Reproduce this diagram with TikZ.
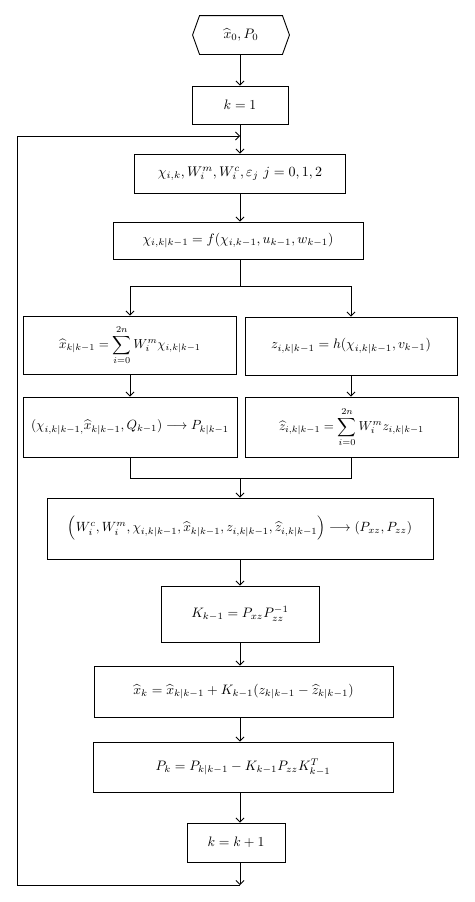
\documentclass[tikz,border=0pt]{standalone}
\usepackage{amsmath}
\usepackage{graphicx}
\usetikzlibrary{arrows.meta,calc}
\newcommand{\bt}[2][1.37]{\scalebox{#1}{#2}}
\begin{document}
\begin{tikzpicture}[x=1pt,y=-1pt,
  box/.style={draw,line width=0.9pt,rectangle,inner sep=0pt,align=center},
  conn/.style={line width=0.9pt},
  arr/.style={conn,-{Straight Barb[length=4pt,width=8pt,line width=0.8pt]}}]
\useasboundingbox (0,0) rectangle (474,902);
% nodes
\node[box,draw=none,minimum width=96pt,minimum height=38pt] (start) at (241,35) {\bt{$\widehat{x}_0, P_0$}};
\draw[line width=0.9pt] ([xshift=7pt]start.north west) -- ([xshift=-7pt]start.north east) -- (start.east)
  -- ([xshift=-7pt]start.south east) -- ([xshift=7pt]start.south west) -- (start.west) -- cycle;
\node[box,minimum width=96pt,minimum height=38pt] (k1) at (240,105) {\bt{$k = 1$}};
\node[box,minimum width=211pt,minimum height=39pt] (sig) at (240,173.5) {\bt[1.4]{$\chi_{i,k}, W_i^m, W_i^c, \varepsilon_j\ j = 0, 1, 2$}};
\node[box,minimum width=250pt,minimum height=37pt] (pred) at (238,240.5) {\bt{$\chi_{i,k|k-1} = f(\chi_{i,k-1}, u_{k-1}, w_{k-1})$}};
\node[box,minimum width=213pt,minimum height=58pt] (xm) at (130,345) {\bt[1.3]{$\displaystyle \widehat{x}_{k|k-1} = \sum_{i=0}^{2n} W_i^m \chi_{i,k|k-1}$}};
\node[box,minimum width=212pt,minimum height=58pt] (zp) at (351,346) {\bt{$z_{i,k|k-1} = h(\chi_{i,k|k-1}, v_{k-1})$}};
\node[box,minimum width=214pt,minimum height=60pt] (Pk) at (130,427) {\bt[1.33]{$(\chi_{i,k|k-1,} \widehat{x}_{k|k-1}, Q_{k-1}) \longrightarrow P_{k|k-1}$}};
\node[box,minimum width=213pt,minimum height=60pt] (zm) at (351.5,427) {\bt[1.3]{$\displaystyle \widehat{z}_{i,k|k-1} = \sum_{i=0}^{2n} W_i^m z_{i,k|k-1}$}};
\node[box,minimum width=386pt,minimum height=61pt] (cov) at (240,528.5) {\bt[1.34]{$\Big(W_i^c, W_i^m, \chi_{i,k|k-1}, \widehat{x}_{k|k-1}, z_{i,k|k-1}, \widehat{z}_{i,k|k-1}\Big) \longrightarrow (P_{xz}, P_{zz})$}};
\node[box,minimum width=158pt,minimum height=56pt] (gain) at (240,614) {\bt{$K_{k-1} = P_{xz}P_{zz}^{-1}$}};
\node[box,minimum width=299pt,minimum height=51pt] (upd) at (243.5,691.5) {\bt{$\widehat{x}_k = \widehat{x}_{k|k-1} + K_{k-1}(z_{k|k-1} - \widehat{z}_{k|k-1})$}};
\node[box,minimum width=300pt,minimum height=50pt] (Pupd) at (243,767) {\bt{$P_k = P_{k|k-1} - K_{k-1}P_{zz}K_{k-1}^T$}};
\node[box,minimum width=98pt,minimum height=39pt] (kk) at (236,842.5) {\bt{$k = k + 1$}};
% coordinates
\coordinate (top) at (240,136);
\coordinate (bot) at (240,885);
\coordinate (split) at (240,286);
\coordinate (merge) at (240,478);
\coordinate (lb) at (17,885);
\coordinate (lt) at (17,136);
% connectors
\draw[arr] (start.south -| k1.south) -- (k1.north);
\draw[arr] (k1.south) -- (k1.south |- sig.north);
\draw[arr] (sig.south) -- (sig.south |- pred.north);
\draw[conn] (pred.south -| split) -- (split);
\draw[arr] (split) -| (xm.north);
\draw[arr] (split) -| (zp.north);
\draw[arr] (xm.south) -- (xm.south |- Pk.north);
\draw[arr] (zp.south) -- (zp.south |- zm.north);
\draw[conn] (Pk.south) |- (merge);
\draw[conn] (zm.south) |- (merge);
\draw[arr] (merge) -- (merge |- cov.north);
\draw[arr] (cov.south) -- (cov.south |- gain.north);
\draw[arr] (gain.south) -- (gain.south |- upd.north);
\draw[arr] (upd.south -| gain.south) -- (gain.south |- Pupd.north);
\draw[arr] (Pupd.south -| gain.south) -- (gain.south |- kk.north);
\draw[arr] (kk.south -| bot) -- (bot);
\draw[arr] (bot) -- (lb) -- (lt) -- (top);
\end{tikzpicture}
\end{document}
